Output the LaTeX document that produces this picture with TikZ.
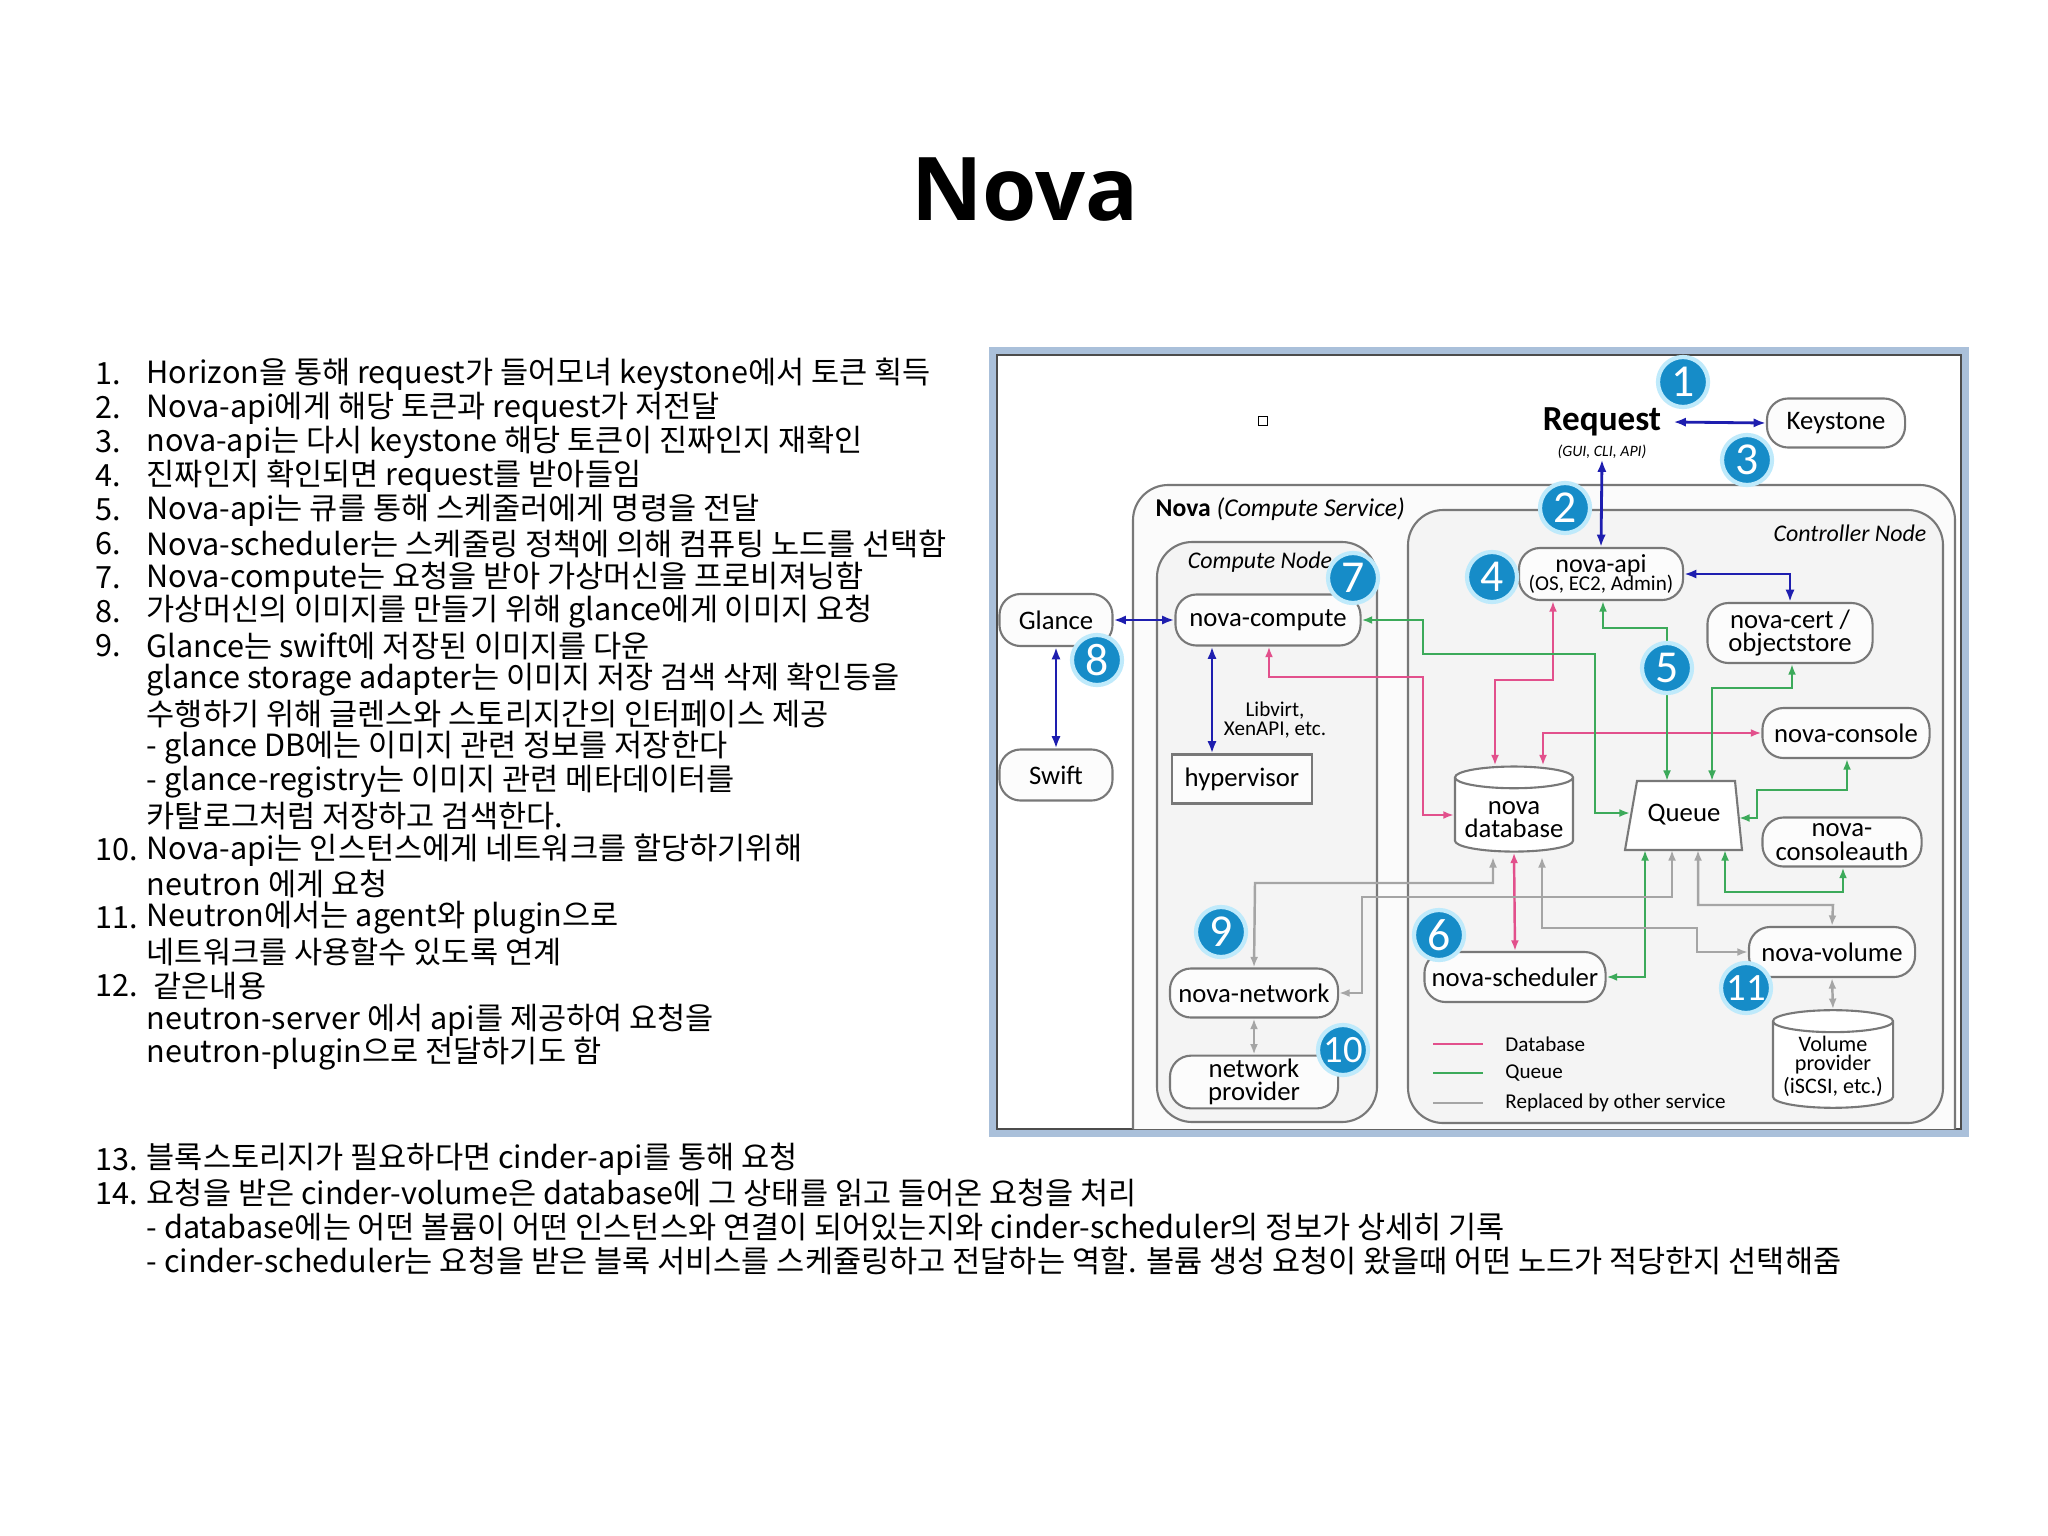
\documentclass[tikz,border=0pt]{standalone}
\usepackage{fontspec}
\setmainfont{Noto Sans CJK KR}
\newfontfamily\titlefont{Open Sans}
\newfontfamily\dfont{Carlito}
\usetikzlibrary{shapes.geometric,arrows.meta}
\definecolor{pk}{RGB}{226,80,140}
\definecolor{gn}{RGB}{60,170,90}
\definecolor{gy}{RGB}{165,165,165}
\definecolor{bl}{RGB}{30,30,175}
\definecolor{nb}{RGB}{22,140,200}
\definecolor{frameblue}{RGB}{170,192,218}
\definecolor{bxline}{RGB}{120,120,120}
\tikzset{
  x=0.01cm, y=-0.01cm,
  line/.style={anchor=west, font=\fontsize{8.7}{9}\selectfont, inner sep=0pt},
  box/.style={draw=bxline, line width=0.6pt, rounded corners=6pt, fill=white!70!gray!8, font=\dfont\fontsize{7.6}{7}\selectfont, align=center, inner sep=1pt},
  num/.style={circle, fill=nb, draw=cyan!25, line width=1.2pt, text=white, minimum size=0.5cm, inner sep=0pt, font=\dfont\fontsize{13}{13}\selectfont},
  pkl/.style={draw=pk, line width=0.7pt, {Latex[length=3pt]}-{Latex[length=3pt]}},
  gnl/.style={draw=gn, line width=0.7pt, {Latex[length=3pt]}-{Latex[length=3pt]}},
  gyl/.style={draw=gy, line width=0.7pt, {Latex[length=3pt]}-{Latex[length=3pt]}},
  bll/.style={draw=bl, line width=0.8pt, {Latex[length=3.5pt]}-{Latex[length=3.5pt]}},
  cyl/.style={cylinder, shape border rotate=90, aspect=0.22, draw=bxline, line width=0.6pt, fill=white, font=\dfont\fontsize{7.6}{6.5}\selectfont, align=center, inner sep=0pt},
}
\begin{document}
\begin{tikzpicture}
\useasboundingbox[fill=white] (0,0) rectangle (2048,1536);
\node[font=\titlefont\bfseries\fontsize{25}{26}\selectfont] (title) at (1025,190) {Nova};
% text list
\foreach \r/\n/\t in {
 0/1./{Horizon을 통해 request가 들어모녀 keystone에서 토큰 획득},
 1/2./{Nova-api에게 해당 토큰과 request가 저전달},
 2/3./{nova-api는 다시 keystone 해당 토큰이 진짜인지 재확인},
 3/4./{진짜인지 확인되면 request를 받아들임},
 4/5./{Nova-api는 큐를 통해 스케줄러에게 명령을 전달},
 5/6./{Nova-scheduler는 스케줄링 정책에 의해 컴퓨팅 노드를 선택함},
 6/7./{Nova-compute는 요청을 받아 가상머신을 프로비져닝함},
 7/8./{가상머신의 이미지를 만들기 위해 glance에게 이미지 요청},
 8/9./{Glance는 swift에 저장된 이미지를 다운},
 9//{glance storage adapter는 이미지 저장 검색 삭제 확인등을},
 10//{수행하기 위해 글렌스와 스토리지간의 인터페이스 제공},
 11//{- glance DB에는 이미지 관련 정보를 저장한다},
 12//{- glance-registry는 이미지 관련 메타데이터를},
 13//{카탈로그처럼 저장하고 검색한다.},
 14/10./{Nova-api는 인스턴스에게 네트워크를 할당하기위해},
 15//{neutron 에게 요청},
 16/11./{Neutron에서는 agent와 plugin으로},
 17//{네트워크를 사용할수 있도록 연계},
 18/12./{\ 같은내용},
 19//{neutron-server 에서 api를 제공하여 요청을},
 20//{neutron-plugin으로 전달하기도 함},
 23.1/13./{블록스토리지가 필요하다면 cinder-api를 통해 요청},
 24.1/14./{요청을 받은 cinder-volume은 database에 그 상태를 읽고 들어온 요청을 처리},
 25.1//{- database에는 어떤 볼륨이 어떤 인스턴스와 연결이 되어있는지와 cinder-scheduler의 정보가 상세히 기록},
 26.1//{- cinder-scheduler는 요청을 받은 블록 서비스를 스케쥴링하고 전달하는 역할. 볼륨 생성 요청이 왔을때 어떤 노드가 적당한지 선택해줌}}
{
 \node[line] (t\r) at (146,{374+34*\r}) {\t};
 \node[line] (m\r) at (95,{374+34*\r}) {\n};
}
% ---- diagram frame
\draw[frameblue, line width=2pt, fill=white] (993,351) rectangle (1965,1133);
\draw[gray!60!black, line width=0.5pt] (997,355) rectangle (1961,1129);
\node[draw=black, line width=0.5pt, minimum size=0.09cm, inner sep=0pt] (sq) at (1263,421) {};
% Nova group
\draw[bxline, line width=0.6pt, fill=gray!3, rounded corners=10pt] (1133,1129) -- (1133,485) -- (1955,485) -- (1955,1129);
\node[anchor=west, font=\dfont\fontsize{7.3}{7}\selectfont, inner sep=0pt] (novalbl) at (1155,509) {\textbf{Nova} \textit{(Compute Service)}};
\draw[bxline, line width=0.6pt, fill=gray!9, rounded corners=10pt] (1157,542) rectangle (1377,1122);
\node[font=\dfont\itshape\fontsize{6.8}{6}\selectfont] (cnl) at (1260,562) {Compute Node};
\draw[bxline, line width=0.6pt, fill=gray!9, rounded corners=10pt] (1408,510) rectangle (1943,1123);
\node[font=\dfont\itshape\fontsize{6.8}{6}\selectfont] (ctl) at (1850,533) {Controller Node};
% nodes
\node[box, minimum width=1.13cm, minimum height=0.52cm] (glance) at (1056,620) {Glance};
\node[box, minimum width=1.13cm, minimum height=0.51cm] (swift) at (1056,775) {Swift};
\node[box, minimum width=1.85cm, minimum height=0.51cm] (compute) at (1268,620) {nova-compute};
\node[box, rounded corners=0pt, minimum width=1.4cm, minimum height=0.49cm] (hyper) at (1242,779) {hypervisor};
\node[font=\dfont\fontsize{6}{5.5}\selectfont, align=center] (libvirt) at (1275,720) {Libvirt,\\XenAPI, etc.};
\node[font=\dfont\bfseries\fontsize{10}{10}\selectfont] (request) at (1602,422) {Request};
\node[font=\dfont\itshape\fontsize{4.5}{5}\selectfont, inner sep=0pt] (gui) at (1602,452) {(GUI, CLI, API)};
\node[box, minimum width=1.38cm, minimum height=0.49cm] (keystone) at (1836,423) {Keystone};
\node[box, minimum width=1.64cm, minimum height=0.52cm, font=\dfont\fontsize{7.4}{6}\selectfont] (api) at (1601,574) {nova-api\\[-1pt]{\fontsize{6}{5.5}\selectfont (OS, EC2, Admin)}};
\node[box, minimum width=1.65cm, minimum height=0.6cm, font=\dfont\fontsize{7.6}{6.8}\selectfont] (cert) at (1790,633) {nova-cert /\\objectstore};
\node[box, minimum width=1.67cm, minimum height=0.5cm] (console) at (1846,733) {nova-console};
\node[box, minimum width=1.59cm, minimum height=0.49cm, font=\dfont\fontsize{7.6}{6.8}\selectfont] (cauth) at (1842,842) {nova-\\consoleauth};
\node[cyl, minimum width=1.18cm, minimum height=0.85cm] (db) at (1514,815) {\\nova\\database};
\node[minimum width=1.17cm, minimum height=0.69cm, inner sep=0pt] (queue) at (1684,815) {};
\draw[bxline, line width=0.6pt, fill=white] (1637,781) -- (1735,781) -- (1742,850) -- (1625,850) -- cycle;
\node[font=\dfont\fontsize{7.6}{7}\selectfont] (qtext) at (queue) {Queue};
\node[box, minimum width=1.81cm, minimum height=0.5cm] (sched) at (1515,977) {nova-scheduler};
\node[box, minimum width=1.66cm, minimum height=0.5cm] (volume) at (1832,952) {nova-volume};
\node[cyl, minimum width=1.2cm, minimum height=0.9cm, font=\dfont\fontsize{6.3}{5.3}\selectfont] (vprov) at (1833,1065) {\\Volume\\provider\\(iSCSI, etc.)};
\node[box, minimum width=1.68cm, minimum height=0.49cm] (network) at (1254,993) {nova-network};
\node[box, minimum width=1.68cm, minimum height=0.5cm, font=\dfont\fontsize{7.6}{6.5}\selectfont] (nprov) at (1254,1082) {network\\provider};
% legend
\coordinate (lg1a) at (1433,1044); \coordinate (lg1b) at (1483,1044);
\coordinate (lg2a) at (1433,1073); \coordinate (lg2b) at (1483,1073);
\coordinate (lg3a) at (1433,1103); \coordinate (lg3b) at (1483,1103);
\draw[pk, line width=0.8pt] (lg1a) -- (lg1b);
\draw[gn, line width=0.8pt] (lg2a) -- (lg2b);
\draw[gy, line width=0.8pt] (lg3a) -- (lg3b);
\node[anchor=west, font=\dfont\fontsize{6}{6}\selectfont] (lgt1) at (1493,1044) {Database};
\node[anchor=west, font=\dfont\fontsize{6}{6}\selectfont] (lgt2) at (1493,1073) {Queue};
\node[anchor=west, font=\dfont\fontsize{6}{6}\selectfont] (lgt3) at (1493,1103) {Replaced by other service};
% blue connectors
\draw[bll] (glance) -- (compute);
\draw[bll] (glance) -- (swift);
\draw[bll] (1212,0 |- compute.south) -- (1212,0 |- hyper.north);
\draw[bll] (request.east) -- (keystone.west);
\draw[bll] (gui.south) -- (api.north);
\draw[bll] (api.east) -| (cert.north);
% pink
\draw[pkl] (1269,0 |- compute.south) |- (1423,677) |- (db.west);
\draw[pkl] (1553,0 |- api.south) |- (1495,680) -- (1495,0 |- db.north);
\draw[pkl] (console.west) -| (1543,0 |- db.north);
\draw[pkl] (db.south) -- (sched.north);
% green
\draw[gnl] (compute.east) -| (1423,654) -| (1595,813) -- (1630,813);
\draw[gnl] (1603,0 |- api.south) |- (1667,628) -- (1667,781);
\draw[gnl] (1792,0 |- cert.south) |- (1712,688) -- (1712,781);
\draw[gnl] (1739,818) -| (1757,790) -| (1847,0 |- console.south);
\draw[gnl] (1725,850) |- (1843,892) -- (1843,0 |- cauth.south);
\draw[gnl] (1645,850) |- (sched.east);
% gray
\draw[gyl] (1493,857) |- (1255,883) -- (network.north);
\draw[gyl] (network.east) -| (1362,897) -| (1672,850);
\draw[gyl] (1542,857) |- (1697,928) |- (volume.west);
\draw[gyl] (1698,850) |- (1833,905) -- (volume.north);
\draw[gyl] (volume.south) -- (vprov.north);
\draw[gyl] (network.south) -- (nprov.north);
% numbers
\node[num] (c1) at (1683,382) {1};
\node[num] (c2) at (1565,508) {2};
\node[num] (c3) at (1747,460) {3};
\node[num] (c4) at (1492,577) {4};
\node[num] (c5) at (1667,668) {5};
\node[num] (c6) at (1439,935) {6};
\node[num] (c7) at (1353,578) {7};
\node[num] (c8) at (1097,660) {8};
\node[num] (c9) at (1221,932) {9};
\node[num, font=\dfont\fontsize{11}{11}\selectfont] (c10) at (1343,1050) {10};
\node[num, font=\dfont\fontsize{11}{11}\selectfont] (c11) at (1746,988) {11};
\end{tikzpicture}
\end{document}
